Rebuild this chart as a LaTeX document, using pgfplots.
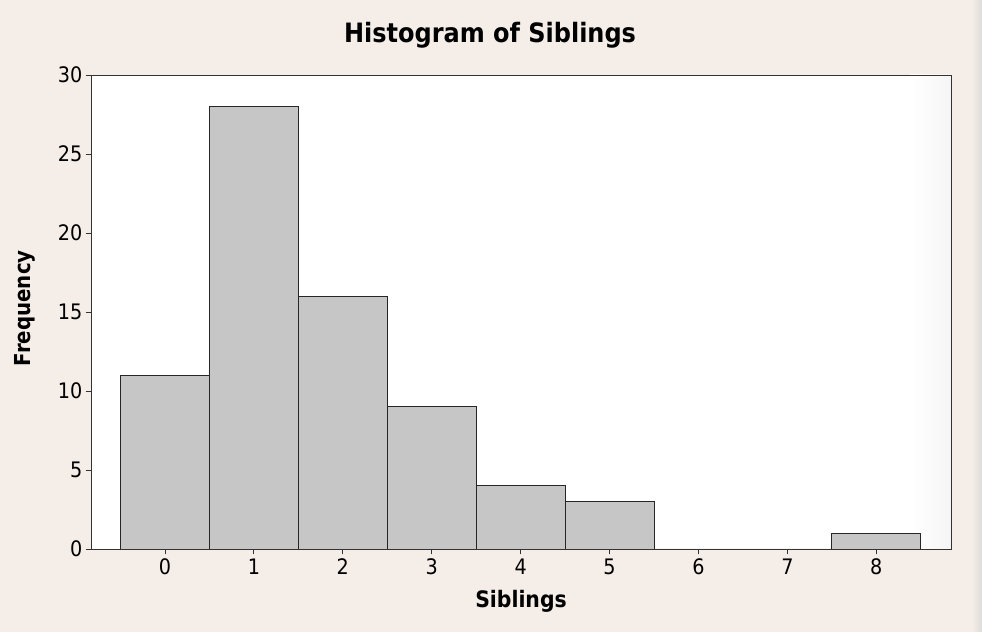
\documentclass[border=0pt]{standalone}
\usepackage{fontspec}
\setmainfont{DejaVu Sans Condensed}
\usepackage{pgfplots}
\pgfplotsset{compat=1.18}
\definecolor{bgcol}{RGB}{245,237,231}
\definecolor{barcol}{RGB}{198,198,198}
\definecolor{stripcol}{RGB}{222,220,218}
\begin{document}
\begin{tikzpicture}[x=0.75pt,y=0.75pt]
\fill[bgcol] (0,0) rectangle (982,632);
\shade[left color=bgcol,right color=stripcol] (972,0) rectangle (982,632);
\fill[white] (91,83) rectangle (951,557);
\shade[left color=white,right color=black!4] (910,83) rectangle (951,557);
\begin{axis}[
  at={(68.25pt,62.25pt)}, anchor=south west,
  scale only axis, width=645pt, height=355.5pt,
  xmin=-0.832, xmax=8.84, ymin=0, ymax=30,
  xtick={0,...,8}, ytick={0,5,...,30},
  xtick pos=bottom, ytick pos=left,
  tick align=outside, major tick length=4pt,
  tick style={black!80, line width=0.6pt},
  axis line style={black!80, line width=0.7pt},
  /pgf/number format/assume math mode=true,
  ticklabel style={font=\fontsize{16}{19}\selectfont},
  yticklabel style={xshift=1pt},
  title={\textbf{Histogram of Siblings}},
  title style={font=\fontsize{20}{24}\selectfont, at={(axis description cs:0.464,1.0675)}, anchor=center},
  xlabel={\textbf{Siblings}},
  xlabel style={font=\fontsize{17}{20}\selectfont, at={(axis description cs:0.5,-0.1097)}, anchor=center},
  ylabel={\textbf{Frequency}},
  ylabel style={font=\fontsize{16.5}{20}\selectfont, at={(axis description cs:-0.0767,0.508)}, anchor=center},
  axis background/.style={fill=none},
  ybar, bar width=1, bar shift=0pt,
]
\addplot[fill=barcol, draw=black!85, line width=0.6pt] coordinates {
  (0,11) (1,28) (2,16) (3,9) (4,4) (5,3) (6,0) (7,0) (8,1)
};
\end{axis}
\end{tikzpicture}
\end{document}
